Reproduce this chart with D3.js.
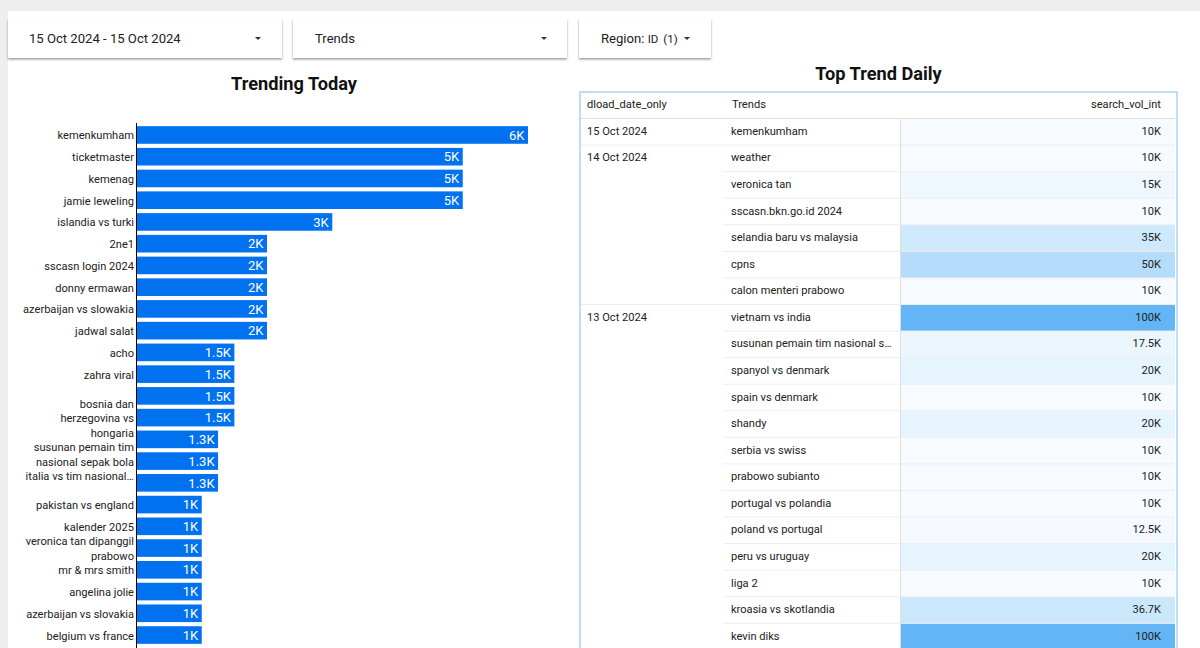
<!DOCTYPE html>
<html>
<head>
<meta charset="utf-8">
<script src="https://cdn.jsdelivr.net/npm/d3@7"></script>
<style>
  html, body { margin: 0; padding: 0; background: #fff; overflow: hidden; }
  svg { display: block; font-family: Roboto, sans-serif; }
</style>
</head>
<body>
<svg width="1200" height="648"></svg>
<script>
// bar chart: a few rows have no visible label, the long label above them took the room
const trendNames = [
  "kemenkumham", "ticketmaster", "kemenag", "jamie leweling", "islandia vs turki", "2ne1",
  "sscasn login 2024", "donny ermawan", "azerbaijan vs slowakia", "jadwal salat", "acho", "zahra viral",
  "", "bosnia dan|herzegovina vs|hongaria", "", "susunan pemain tim|nasional sepak bola|italia vs tim nasional…", "",
  "pakistan vs england", "kalender 2025", "veronica tan dipanggil|prabowo", "mr & mrs smith", "angelina jolie",
  "azerbaijan vs slovakia", "belgium vs france"
];
const trendValues = [6000, 5000, 5000, 5000, 3000, 2000, 2000, 2000, 2000, 2000, 1500, 1500,
  1500, 1500, 1250, 1250, 1250, 1000, 1000, 1000, 1000, 1000, 1000, 1000];
const trendLabels = ["6K", "5K", "5K", "5K", "3K", "2K", "2K", "2K", "2K", "2K", "1.5K", "1.5K",
  "1.5K", "1.5K", "1.3K", "1.3K", "1.3K", "1K", "1K", "1K", "1K", "1K", "1K", "1K"];

// table
const tableDates = ["15 Oct 2024", "14 Oct 2024", "", "", "", "", "", "13 Oct 2024", "", "", "", "", "", "", "", "", "", "", "", ""];
const tableTrends = [
  "kemenkumham", "weather", "veronica tan", "sscasn.bkn.go.id 2024", "selandia baru vs malaysia", "cpns",
  "calon menteri prabowo", "vietnam vs india", "susunan pemain tim nasional s…", "spanyol vs denmark",
  "spain vs denmark", "shandy", "serbia vs swiss", "prabowo subianto", "portugal vs polandia",
  "poland vs portugal", "peru vs uruguay", "liga 2", "kroasia vs skotlandia", "kevin diks"
];
const tableVolumes = [10000, 10000, 15000, 10000, 35000, 50000, 10000, 100000, 17500, 20000,
  10000, 20000, 10000, 10000, 10000, 12500, 20000, 10000, 36700, 100000];
const tableHeaders = ["dload_date_only", "Trends", "search_vol_int"];

const filterLabels = ["15 Oct 2024 - 15 Oct 2024", "Trends"];

const svg = d3.select("svg");
const textColor = "#212121";
const smallFont = 11.1;

// drop shadow for the filter cards
const shadow = svg.append("defs").append("filter").attr("id", "card")
  .attr("x", "-5%").attr("y", "-20%").attr("width", "110%").attr("height", "150%");
shadow.append("feDropShadow").attr("dx", 0).attr("dy", 1.5).attr("stdDeviation", 1.2)
  .attr("flood-color", "#000").attr("flood-opacity", 0.4);

// page background
svg.append("rect").attr("width", 1200).attr("height", 648).attr("fill", "#eeeeee");
svg.append("rect").attr("x", 8).attr("y", 11).attr("width", 1192).attr("height", 637).attr("fill", "#fff");

// filter cards
const cards = [
  { x: 8, w: 274, textX: 29, caretX: 258 },
  { x: 293, w: 274, textX: 315, caretX: 544 },
  { x: 579, w: 132, textX: 601, caretX: 687 }
];
svg.selectAll("rect.card").data(cards).join("rect")
  .attr("class", "card")
  .attr("x", d => d.x).attr("y", 19).attr("width", d => d.w).attr("height", 39)
  .attr("fill", "#fff").attr("filter", "url(#card)");
svg.selectAll("path.caret").data(cards).join("path")
  .attr("class", "caret")
  .attr("d", d => `M${d.caretX - 3},37 h6 l-3,3 z`)
  .attr("fill", "#333");
svg.selectAll("text.filter").data(filterLabels).join("text")
  .attr("class", "filter")
  .attr("x", (d, i) => cards[i].textX).attr("y", 43)
  .attr("font-size", 13.1).attr("fill", textColor).text(d => d);
const region = svg.append("text").attr("x", cards[2].textX).attr("y", 43).attr("font-size", 13.1).attr("fill", textColor);
region.append("tspan").text("Region: ");
region.append("tspan").attr("font-size", 11.5).text("ID");
region.append("tspan").attr("font-size", 11.5).attr("dx", 5).text("(1)");

// titles
svg.append("text").attr("x", 294).attr("y", 90).attr("text-anchor", "middle")
  .attr("font-size", 18.2).attr("font-weight", 700).attr("fill", "#111").text("Trending Today");
svg.append("text").attr("x", 878.5).attr("y", 80).attr("text-anchor", "middle")
  .attr("font-size", 18.2).attr("font-weight", 700).attr("fill", "#111").text("Top Trend Daily");

// bars
const x = d3.scaleLinear().domain([0, 6000]).range([136.5, 528]);
const y = d3.scaleBand().domain(d3.range(trendNames.length))
  .range([124.1, 645.9]).paddingInner(0.19).paddingOuter(0.095);

svg.selectAll("rect.bar").data(trendValues).join("rect")
  .attr("class", "bar")
  .attr("x", x(0))
  .attr("y", (d, i) => y(i))
  .attr("width", d => x(d) - x(0))
  .attr("height", y.bandwidth())
  .attr("fill", "#0072f0");

svg.selectAll("text.value").data(trendValues).join("text")
  .attr("class", "value")
  .attr("x", d => x(d) - 3.5)
  .attr("y", (d, i) => y(i) + y.bandwidth() / 2)
  .attr("dy", "0.36em")
  .attr("text-anchor", "end")
  .attr("font-size", 13)
  .attr("fill", "#fff")
  .text((d, i) => trendLabels[i]);

const yAxis = svg.append("g")
  .attr("transform", `translate(${x(0)},0)`)
  .call(d3.axisLeft(y).tickSize(0).tickPadding(2.5).tickFormat(""));
yAxis.select(".domain").remove();
svg.append("line").attr("x1", x(0)).attr("x2", x(0)).attr("y1", 123).attr("y2", 648)
  .attr("stroke", "#000").attr("stroke-width", 1);

// labels can run over several lines, centred on their row
yAxis.selectAll(".tick text").each(function (i) {
  const lines = trendNames[i].split("|");
  const label = d3.select(this).attr("font-family", "Roboto").attr("font-size", smallFont)
    .attr("fill", textColor).attr("x", -2.5).attr("dy", null).attr("y", 0);
  label.selectAll("tspan").data(lines).join("tspan")
    .attr("x", -2.5)
    .attr("y", (d, k) => (k - (lines.length - 1) / 2) * 14.6 + 4.5)
    .text(d => d);
});

// table
const tableX = 580, tableRight = 1177, tableTop = 92;
const volX = 900.5, volRight = 1175;
const headerBottom = 118.5;
const rowY = d3.scaleBand().domain(d3.range(tableTrends.length))
  .range([headerBottom, headerBottom + 26.57 * tableTrends.length]);
const volColor = d3.scaleLinear().domain([8000, 100000]).range(["#fafdff", "#64b5f6"]);

svg.selectAll("rect.cell").data(tableVolumes).join("rect")
  .attr("class", "cell")
  .attr("x", volX).attr("y", (d, i) => rowY(i))
  .attr("width", volRight - volX).attr("height", rowY.bandwidth())
  .attr("fill", d => volColor(d));

// row rules: full width under a date group, from the trends column otherwise
svg.selectAll("line.rule").data(tableTrends).join("line")
  .attr("class", "rule")
  .attr("x1", (d, i) => tableDates[i + 1] ? tableX : 723)
  .attr("x2", volRight)
  .attr("y1", (d, i) => rowY(i) + rowY.bandwidth())
  .attr("y2", (d, i) => rowY(i) + rowY.bandwidth())
  .attr("stroke", "#eeeeee").attr("stroke-width", 1);

svg.append("line").attr("x1", tableX).attr("x2", volRight).attr("y1", headerBottom).attr("y2", headerBottom)
  .attr("stroke", "#e0e0e0");
svg.append("line").attr("x1", volX).attr("x2", volX).attr("y1", headerBottom).attr("y2", 648)
  .attr("stroke", "#e0e0e0");
svg.append("path")
  .attr("d", `M${tableX},648 V${tableTop} H${tableRight} V648`)
  .attr("fill", "none").attr("stroke", "#a9d3f5").attr("stroke-width", 1.5);

const headerX = [587, 732, 1161];
svg.selectAll("text.header").data(tableHeaders).join("text")
  .attr("class", "header")
  .attr("x", (d, i) => headerX[i]).attr("y", 108)
  .attr("text-anchor", (d, i) => i === 2 ? "end" : "start")
  .attr("font-size", smallFont).attr("fill", textColor).text(d => d);

const rowText = (cls, values, xPos, anchor, fmt) => svg.selectAll("text." + cls).data(values).join("text")
  .attr("class", cls)
  .attr("x", xPos)
  .attr("y", (d, i) => rowY(i) + rowY.bandwidth() / 2)
  .attr("dy", "0.28em")
  .attr("text-anchor", anchor)
  .attr("font-size", smallFont)
  .attr("fill", textColor)
  .text(fmt);

rowText("date", tableDates, 587, "start", d => d);
rowText("trend", tableTrends, 731, "start", d => d);
rowText("vol", tableVolumes, 1161, "end", d => d / 1000 + "K");
</script>
</body>
</html>
